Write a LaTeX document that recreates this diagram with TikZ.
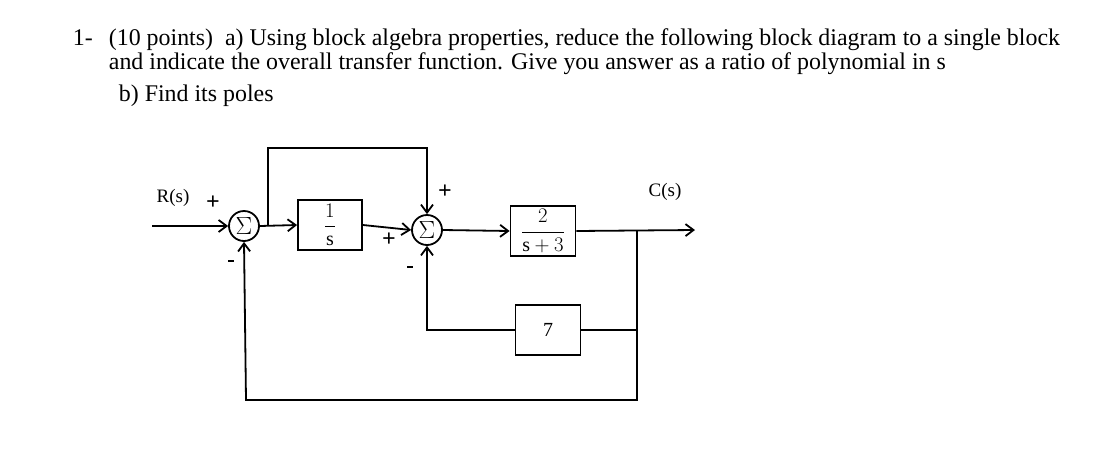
\documentclass[tikz,border=0pt]{standalone}
\usepackage{fontspec}
\setmainfont{Liberation Serif}
\usetikzlibrary{arrows.meta}
\begin{document}
\begin{tikzpicture}[x=1pt,y=-1pt,line width=1.8pt,
  sum/.style={circle,draw,minimum size=30pt,inner sep=0pt,font=\fontsize{24}{24}\selectfont},
  blk/.style={draw,rectangle,inner sep=0pt,font=\fontsize{20}{22}\selectfont},
  sig/.style={font=\fontsize{19}{19}\selectfont},
  pm/.style={font=\fontsize{24}{24}\selectfont\bfseries,inner sep=0pt},
  arr/.style={-{Straight Barb[length=8pt,width=12pt]}},
  txt/.style={anchor=base west,inner sep=0pt,font=\fontsize{23.9}{24}\selectfont}]
\useasboundingbox (0,0) rectangle (1120,472);
\node[txt] (t1) at (72,45) {1-};
\node[txt] (t2) at (108,45) {(10 points)\ \ a) Using block algebra properties, reduce the following block diagram to a single block};
\node[txt] (t3) at (108,69) {and indicate the overall transfer function. Give you answer as a ratio of polynomial in s};
\node[txt] (t4) at (118,101) {b) Find its poles};

\node[sum] (s1) at (244,226) {$\Sigma$};
\node[sum] (s2) at (427,230) {$\Sigma$};
\node[blk,minimum width=64pt,minimum height=50pt] (b1) at (330,225) {$\displaystyle\frac{1}{\mathrm{s}}$};
\node[blk,minimum width=65pt,minimum height=50pt] (b2) at (543,231) {$\displaystyle\frac{2}{\mathrm{s}+3}$};
\node[blk,minimum width=65pt,minimum height=50pt] (b3) at (548,330) {7};
\coordinate (in) at (152,226);
\coordinate (out) at (695,230);
\coordinate (br1) at (268,226);
\coordinate (tl) at (268,148);
\coordinate (tr) at (427,148);
\coordinate (br2) at (637,230);
\coordinate (fb7) at (637,330);
\coordinate (bl) at (246,400);
\coordinate (brr) at (637,400);
\coordinate (l7) at (427,330);

\draw[arr] (in) -- (s1.west);
\draw[arr] (s1.east) -- (b1.west);
\draw[arr] (b1.east) -- (s2.west);
\draw[arr] (br1) -- (tl) -- (tr) -- (s2.north);
\draw[arr] (s2.east) -- (b2.west);
\draw[arr] (b2.east) -- (out);
\draw (br2) -- (fb7) -- (b3.east);
\draw[arr] (b3.west) -- (l7) -- (s2.south);
\draw[arr] (br2) -- (brr) -- (bl) -- (s1.south);

\node[sig] (R) at (173,198) {R(s)};
\node[sig] (C) at (665,192) {C(s)};
\node[pm] (p1) at (213,203) {+};
\node[pm] (m1) at (231,261) {\rule{6pt}{2.2pt}};
\node[pm] (p2) at (389,240) {+};
\node[pm] (p3) at (445,192) {+};
\node[pm] (m2) at (410,267) {\rule{6pt}{2.2pt}};
\end{tikzpicture}
\end{document}
